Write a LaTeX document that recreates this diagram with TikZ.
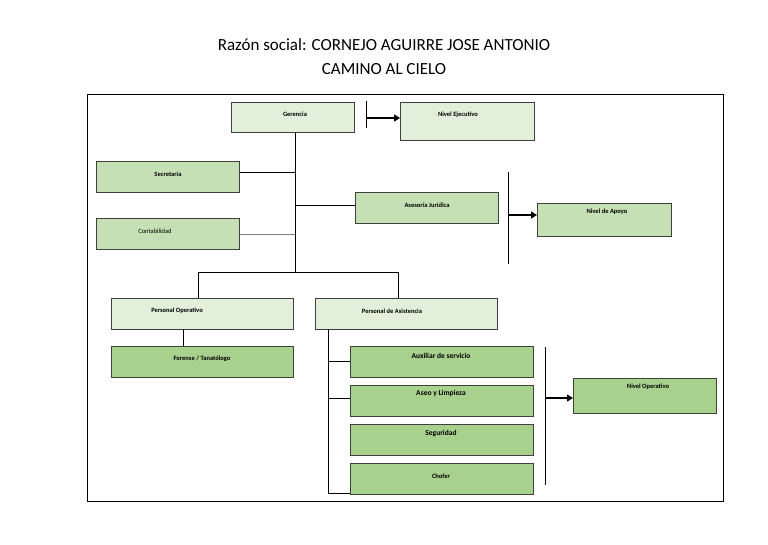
\documentclass[tikz,border=0pt]{standalone}
\usepackage{fontspec}
\setmainfont{Carlito}
\usetikzlibrary{arrows.meta}
\definecolor{lt}{HTML}{E2EFDA}
\definecolor{md}{HTML}{C5E0B4}
\definecolor{dk}{HTML}{A9D18E}
\tikzset{
 bx/.style={draw=black!75,line width=0.9pt,anchor=north west,inner sep=0pt},
 lbl/.style={font=\bfseries\fontsize{6.5}{7}\selectfont},
 ln/.style={line width=0.8pt},
 ar/.style={line width=1.4pt,-{Triangle[length=6pt,width=7pt]}},
 bar/.style={line width=0.8pt}
}
\newcommand{\bxx}[6]{\node[bx,fill=#5,minimum width=#3pt,minimum height=#4pt] (#6) at (#1,#2) {};}
\begin{document}
\begin{tikzpicture}[x=1pt,y=-1pt]
\useasboundingbox (0,0) rectangle (768,544);
\node[font=\fontsize{17}{20}\selectfont] (t1) at (384,45) {Razón social: CORNEJO AGUIRRE JOSE ANTONIO};
\node[font=\fontsize{17}{20}\selectfont] (t2) at (384,69) {CAMINO AL CIELO};
\draw[line width=0.8pt] (87,94) rectangle (723,501);
% boxes
\bxx{231}{102}{123}{30}{lt}{ger}
\bxx{400}{102}{134}{38}{lt}{nej}
\bxx{96}{161}{143}{31}{md}{sec}
\bxx{355}{192}{143}{31}{md}{ase}
\bxx{96}{218}{143}{31}{md}{con}
\bxx{537}{203}{134}{33}{md}{nap}
\bxx{111}{298}{182}{31}{lt}{pop}
\bxx{315}{298}{182}{31}{lt}{pas}
\bxx{111}{346}{182}{31}{dk}{for}
\bxx{350}{346}{183}{31}{dk}{aux}
\bxx{350}{385}{183}{31}{dk}{aseo}
\bxx{350}{424}{183}{31}{dk}{seg}
\bxx{350}{463}{183}{31}{dk}{cho}
\bxx{573}{378}{143}{35}{dk}{nop}
% labels
\node[lbl] at (295,114) {Gerencia};
\node[lbl] at (458,115) {Nivel Ejecutivo};
\node[lbl] at (168,174) {Secretaría};
\node[lbl] at (427,205) {Asesoría Jurídica};
\node[lbl,font=\fontsize{6.5}{7}\selectfont] at (155,231) {Contabilidad};
\node[lbl] at (607,212) {Nivel de Apoyo};
\node[lbl] at (177,311) {Personal Operativo};
\node[lbl] at (392,311) {Personal de Asistencia};
\node[lbl] at (202,359) {Forense / Tanatólogo};
\node[lbl,font=\bfseries\fontsize{7.5}{8}\selectfont] at (441,356) {Auxiliar de servicio};
\node[lbl,font=\bfseries\fontsize{7.5}{8}\selectfont] at (441,393) {Aseo y Limpieza};
\node[lbl,font=\bfseries\fontsize{7.5}{8}\selectfont] at (441,433) {Seguridad};
\node[lbl] at (441,476) {Chofer};
\node[lbl] at (648,387) {Nivel Operativo};
% trunk
\coordinate (j1) at (295,172);
\coordinate (j2) at (295,205);
\coordinate (j3) at (295,234);
\coordinate (j4) at (295,272);
\draw[ln] (ger.south -| j1) -- (j4);
\draw[ln] (sec.east |- j1) -- (j1);
\draw[ln] (ase.west |- j2) -- (j2);
\draw[ln,gray] (con.east |- j3) -- (j3);
\coordinate (l1) at (198,272);
\coordinate (r1) at (398,272);
\draw[ln] (198,298) -- (l1) -- (r1) -- (398,298);
\draw[ln] (183,329) -- (183,346);
\draw[ln] (328,329) -- (328,493) -- (350,493);
\draw[ln] (328,361) -- (350,361);
\draw[ln] (328,398) -- (350,398);
% level bars and arrows
\draw[bar] (366,101) -- (366,128);
\draw[ar] (366,118) -- (nej.west |- 0,118);
\draw[bar] (508,172) -- (508,264);
\draw[ar] (508,215) -- (nap.west |- 0,215);
\draw[bar] (545,347) -- (545,485);
\draw[ar] (545,398) -- (nop.west |- 0,398);
\end{tikzpicture}
\end{document}
